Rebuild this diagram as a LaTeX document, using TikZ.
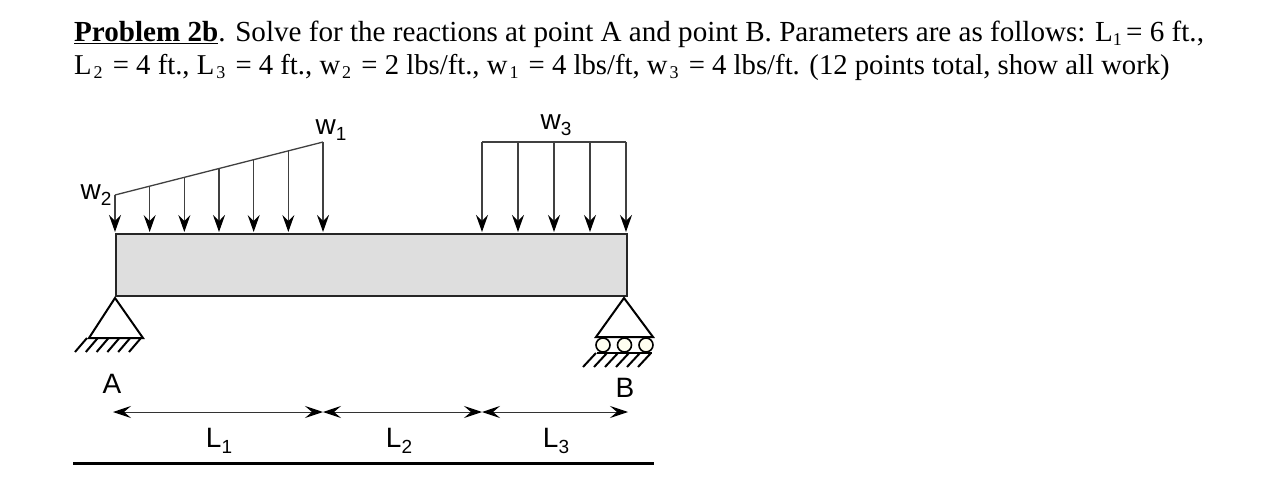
\documentclass[tikz,border=0pt]{standalone}
\usepackage{fontspec}
\setmainfont{Liberation Serif}
\setsansfont{Liberation Sans}
\usetikzlibrary{arrows.meta}

\newcommand{\lowtxt}[1]{\raisebox{-0.12em}{\fontsize{18}{18}\selectfont #1}}
\newcommand{\lowlbl}[1]{\raisebox{-0.22em}{\fontsize{19}{19}\selectfont #1}}

\tikzset{
	load/.style={draw=black!75, line width=1.3pt, -{Stealth[length=17pt,width=12pt,inset=6pt,color=black]}},
	dim/.style={draw=black!80, line width=1pt, {Stealth[length=18pt,width=12pt,inset=7pt,color=black]}-{Stealth[length=18pt,width=12pt,inset=7pt,color=black]}},
	lbl/.style={font=\sffamily\fontsize{28}{28}\selectfont, inner sep=0pt},
	txt/.style={anchor=base west, inner sep=0pt},
	hatch/.style={line width=2pt}
}

\begin{document}
\begin{tikzpicture}[x=1pt, y=-1pt]
	\useasboundingbox (0, 0) rectangle (1278, 500);

	% problem text
	\node[txt, font=\fontsize{29.1}{29.1}\selectfont] (line1) at (74, 42) {\underline{\textbf{Problem 2b}}. Solve for the reactions at point A and point B. Parameters are as follows: L\lowtxt{1}\hspace{-3pt} = 6 ft.,};
	\node[txt, font=\fontsize{28.7}{28.7}\selectfont] (line2) at (74, 75) {L\hspace{2pt}\lowtxt{2}\hspace{3pt} = 4 ft., L\hspace{2pt}\lowtxt{3}\hspace{3pt} = 4 ft., w\hspace{2pt}\lowtxt{2}\hspace{3pt} = 2 lbs/ft., w\hspace{2pt}\lowtxt{1}\hspace{3pt} = 4 lbs/ft, w\hspace{2pt}\lowtxt{3}\hspace{3pt} = 4 lbs/ft. (12 points total, show all work)};

	% beam
	\node[draw=black!85, fill=black!13, line width=2pt, minimum width=510.5pt, minimum height=62.5pt, inner sep=0pt, anchor=north west] (beam) at (115, 232.5) {};

	% linear load
	\foreach \i in {0, ..., 6} {
		\coordinate (top\i) at ({115 + 34.67*\i}, {195 - 8.83*\i});
		\coordinate (bot\i) at ({115 + 34.67*\i}, 232);
		\draw[load] (top\i) -- (bot\i);
	}
	\draw[draw=black!75, line width=1.3pt] (top0) -- (top6);

	% uniform load
	\foreach \i in {0, ..., 4} {
		\coordinate (utop\i) at ({482 + 36*\i}, 142);
		\coordinate (ubot\i) at ({482 + 36*\i}, 232);
		\draw[load] (utop\i) -- (ubot\i);
	}
	\draw[draw=black!75, line width=1.3pt] (utop0) -- (utop4);

	% support A
	\coordinate (apexA) at (115, 298);
	\coordinate (leftA) at (89, 338);
	\coordinate (rightA) at (143, 338);
	\draw[hatch] (leftA) -- (apexA) -- (rightA) -- cycle;
	\foreach \i in {0, ..., 5} {
		\draw[hatch] ({87 + 10.8*\i}, 338) -- ++(-12, 14);
	}

	% support B
	\coordinate (apexB) at (624, 298);
	\coordinate (leftB) at (596, 337);
	\coordinate (rightB) at (653, 337);
	\draw[hatch] (leftB) -- (apexB) -- (rightB) -- cycle;
	\foreach \x in {603, 624.5, 646} {
		\draw[line width=1.6pt, fill=yellow!6] (\x, 345) circle (7);
	}
	\coordinate (groundL) at (597, 353);
	\coordinate (groundR) at (652, 353);
	\draw[hatch] (groundL) -- (groundR);
	\foreach \i in {0, ..., 5} {
		\draw[hatch] ({596 + 11*\i}, 353) -- ++(-13, 14);
	}

	% dimensions
	\coordinate (d0) at (113, 412);
	\coordinate (d1) at (323, 412);
	\coordinate (d2) at (482, 412);
	\coordinate (d3) at (628, 412);
	\draw[dim] (d0) -- (d1);
	\draw[dim] (d1) -- (d2);
	\draw[dim] (d2) -- (d3);
	\coordinate (baseL) at (73, 463);
	\coordinate (baseR) at (654, 463);
	\draw[line width=3pt] (baseL) -- (baseR);

	% labels
	\node[lbl] (w1) at (331, 130) {w\lowlbl{1}};
	\node[lbl] (w2) at (96, 195) {w\lowlbl{2}};
	\node[lbl] (w3) at (556, 125) {w\lowlbl{3}};
	\node[lbl] (A) at (112, 384) {A};
	\node[lbl] (B) at (625, 388) {B};
	\node[lbl] (L1) at (219, 441) {L\lowlbl{1}};
	\node[lbl] (L2) at (399, 441) {L\lowlbl{2}};
	\node[lbl] (L3) at (556, 441) {L\lowlbl{3}};
\end{tikzpicture}
\end{document}
